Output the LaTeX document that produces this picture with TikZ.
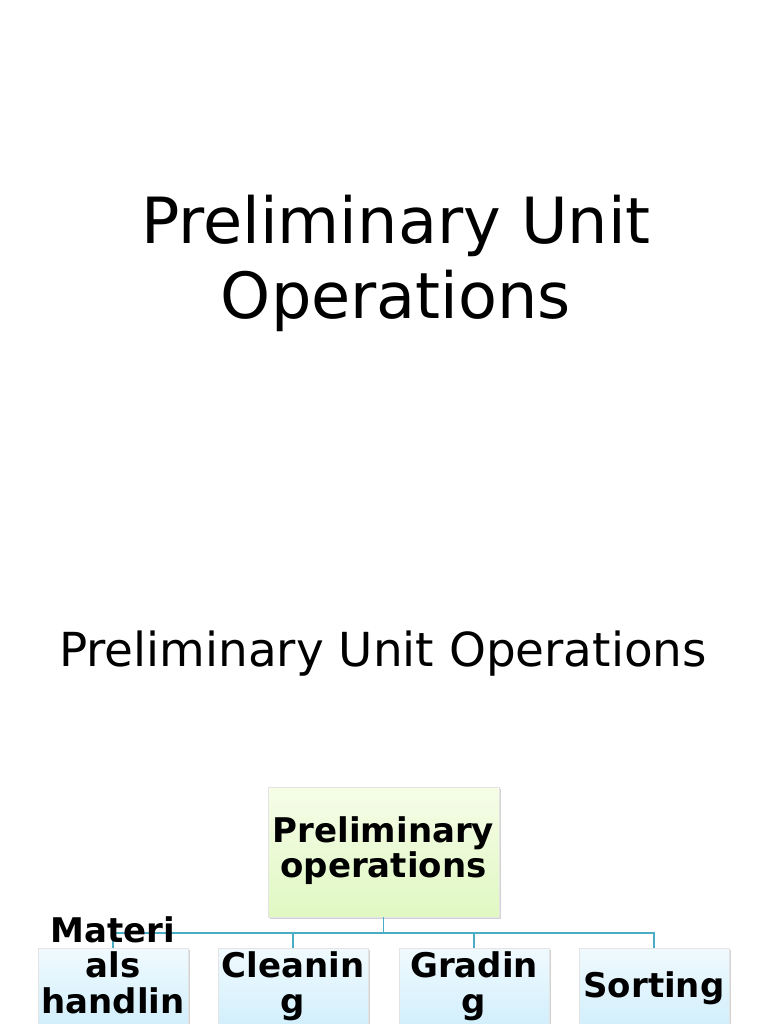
\documentclass[tikz,border=0pt]{standalone}
\usepackage{fontspec}
\setmainfont{DejaVu Sans}
\usetikzlibrary{shadows}
\definecolor{conncol}{HTML}{4BACC6}
\definecolor{gtop}{HTML}{F6FDE8}
\definecolor{gbot}{HTML}{E0F8C2}
\definecolor{btop}{HTML}{F0FAFE}
\definecolor{bbot}{HTML}{C4EAFB}
\definecolor{edgecol}{HTML}{E4E4E4}
\begin{document}
\begin{tikzpicture}[x=1pt,y=-1pt,
  box/.style={draw=edgecol, line width=0.6pt, inner sep=0pt,
    drop shadow={shadow xshift=1.5pt, shadow yshift=-2pt, opacity=0.35}},
  topbox/.style={box, top color=gtop, bottom color=gbot,
    minimum width=231pt, minimum height=130pt},
  childbox/.style={box, top color=btop, bottom color=bbot,
    minimum width=150pt, minimum height=112pt},
  boxtext/.style={align=center, font=\bfseries\fontsize{34}{35.5}\selectfont, inner sep=0pt},
  conn/.style={draw=conncol, line width=1.3pt},
  title/.style={align=center, inner sep=0pt}
]
\useasboundingbox (0,0) rectangle (768,1024);
\fill[white] (0,0) rectangle (768,1024);

\node[title, font=\fontsize{63.7}{75}\selectfont, anchor=base] (t1) at (396,318) {Preliminary Unit\\Operations};
\node[title, font=\fontsize{46.9}{50}\selectfont, anchor=base] (t2) at (383,666) {Preliminary Unit Operations};

\node[topbox] (top) at (383.5,852) {};
\node[boxtext, font=\bfseries\fontsize{34}{32.5}\selectfont, anchor=base] (toptext) at (383.5,877) {Preliminary\\operations};

\coordinate (bus) at (0,933);
\node[childbox] (mat) at (113,1004) {};
\node[childbox] (cle) at (293,1004) {};
\node[childbox] (gra) at (474,1004) {};
\node[childbox] (sor) at (654,1004) {};

\foreach \c in {mat,cle,gra,sor}
  \draw[conn] (top.south) -- (top.south |- bus) -| (\c.north);

\node[boxtext, anchor=base] (matt) at (113,1013) {Materi\\als\\handlin};
\node[boxtext, anchor=base] (clet) at (293,1013) {Cleanin\\g};
\node[boxtext, anchor=base] (grat) at (474,1013) {Gradin\\g};
\node[boxtext, anchor=base] (sort) at (654,997) {Sorting};
\end{tikzpicture}
\end{document}
